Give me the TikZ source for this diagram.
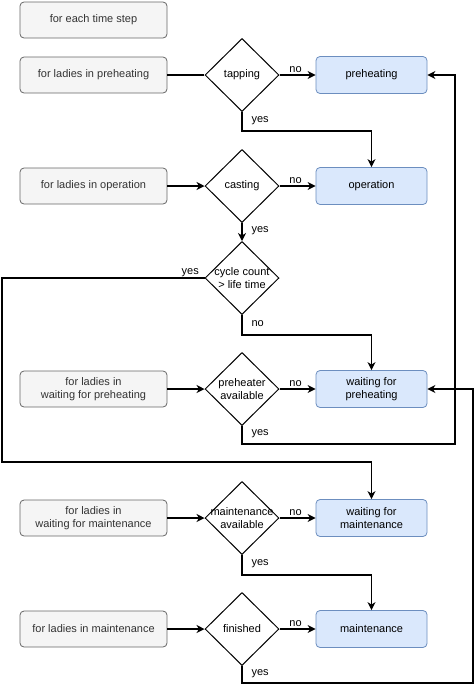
\documentclass[tikz,border=0pt]{standalone}
\usepackage{fontspec}
\setmainfont{Liberation Sans}
\usetikzlibrary{arrows.meta}
\usetikzlibrary{shapes.geometric}

\definecolor{loopgray}{HTML}{F5F5F5}
\definecolor{loopline}{HTML}{666666}
\definecolor{statefill}{HTML}{DAE8FC}
\definecolor{stateline}{HTML}{6C8EBF}
\definecolor{looptext}{HTML}{333333}

\begin{document}
\begin{tikzpicture}[x=1pt, y=-1pt,
  every node/.style={font=\fontsize{11}{13}\selectfont},
  loop/.style={draw=loopline, fill=loopgray, rounded corners=4pt, minimum width=147pt, minimum height=36pt, align=center, text=looptext, line width=0.8pt},
  state/.style={draw=stateline, fill=statefill, rounded corners=4pt, minimum width=111pt, minimum height=37pt, align=center, line width=0.8pt},
  decision/.style={draw=black, diamond, inner sep=0pt, minimum width=74pt, minimum height=73pt, line width=1pt},
  dtext/.style={align=center, inner sep=0pt},
  flow/.style={draw=black, line width=1.2pt, -{Stealth[length=8pt, width=8pt, inset=2.5pt]}},
  lbl/.style={inner sep=1pt}]
\useasboundingbox (0,0) rectangle (474,686);

\node[loop] (each) at (93.5,20) {for each time step};
\node[loop] (lpre) at (93.5,75) {for ladies in preheating};
\node[loop] (lops) at (93.5,186) {for ladies in operation};
\node[loop] (lwpre) at (93.5,389) {for ladies in\\waiting for preheating};
\node[loop] (lwmnt) at (93.5,518) {for ladies in\\waiting for maintenance};
\node[loop] (lmnt) at (93.5,629) {for ladies in maintenance};

\node[decision, label={[dtext]center:tapping}] (tap) at (242,75) {};
\node[decision, label={[dtext]center:casting}] (cast) at (242,186) {};
\node[decision, label={[dtext]center:cycle count\\> life time}] (cyc) at (242,278) {};
\node[decision, label={[dtext]center:preheater\\available}] (pav) at (242,389) {};
\node[decision, label={[dtext]center:maintenance\\available}] (mav) at (242,518) {};
\node[decision, label={[dtext]center:finished}] (fin) at (242,629) {};

\node[state] (preh) at (371.5,75) {preheating};
\node[state] (oper) at (371.5,186) {operation};
\node[state] (wpre) at (371.5,389) {waiting for\\preheating};
\node[state] (wmnt) at (371.5,518) {waiting for\\maintenance};
\node[state] (mnt) at (371.5,629) {maintenance};

\coordinate (loopR) at (455,444);
\coordinate (loopRR) at (473,683);
\coordinate (loopL) at (2,462);

\draw[line width=1.2pt] (lpre) -- (tap);
\draw[flow] (lops) -- (cast);
\draw[flow] (lwpre) -- (pav);
\draw[flow] (lwmnt) -- (mav);
\draw[flow] (lmnt) -- (fin);

\draw[flow] (tap) -- node[lbl, above, xshift=-2pt, yshift=1pt] {no} (preh);
\draw[flow] (cast) -- node[lbl, above, xshift=-2pt, yshift=1pt] {no} (oper);
\draw[flow] (pav) -- node[lbl, above, xshift=-2pt, yshift=1pt] {no} (wpre);
\draw[flow] (mav) -- node[lbl, above, xshift=-2pt, yshift=1pt] {no} (wmnt);
\draw[flow] (fin) -- node[lbl, above, xshift=-2pt, yshift=1pt] {no} (mnt);

\draw[flow] (tap.south) -- node[lbl, anchor=west, xshift=8pt, yshift=1pt] {yes} ++(0,19) -| (oper.north);
\draw[flow] (cast.south) -- node[lbl, anchor=west, xshift=8pt, yshift=1pt] {yes} (cyc.north);
\draw[flow] (cyc.south) -- node[lbl, anchor=west, xshift=8pt, yshift=1pt] {no} ++(0,20) -| (wpre.north);
\draw[flow] (cyc.west) -- node[lbl, anchor=south east, pos=0.02] {yes} (cyc.west -| loopL) -- (loopL) -| (wmnt.north);
\draw[flow] (pav.south) -- node[lbl, anchor=west, xshift=8pt, yshift=1pt] {yes} (pav.south |- loopR) -- (loopR) |- (preh.east);
\draw[flow] (mav.south) -- node[lbl, anchor=west, xshift=8pt, yshift=1pt] {yes} ++(0,20) -| (mnt.north);
\draw[flow] (fin.south) -- node[lbl, anchor=west, xshift=8pt, yshift=1pt] {yes} (fin.south |- loopRR) -- (loopRR) |- (wpre.east);
\end{tikzpicture}
\end{document}
